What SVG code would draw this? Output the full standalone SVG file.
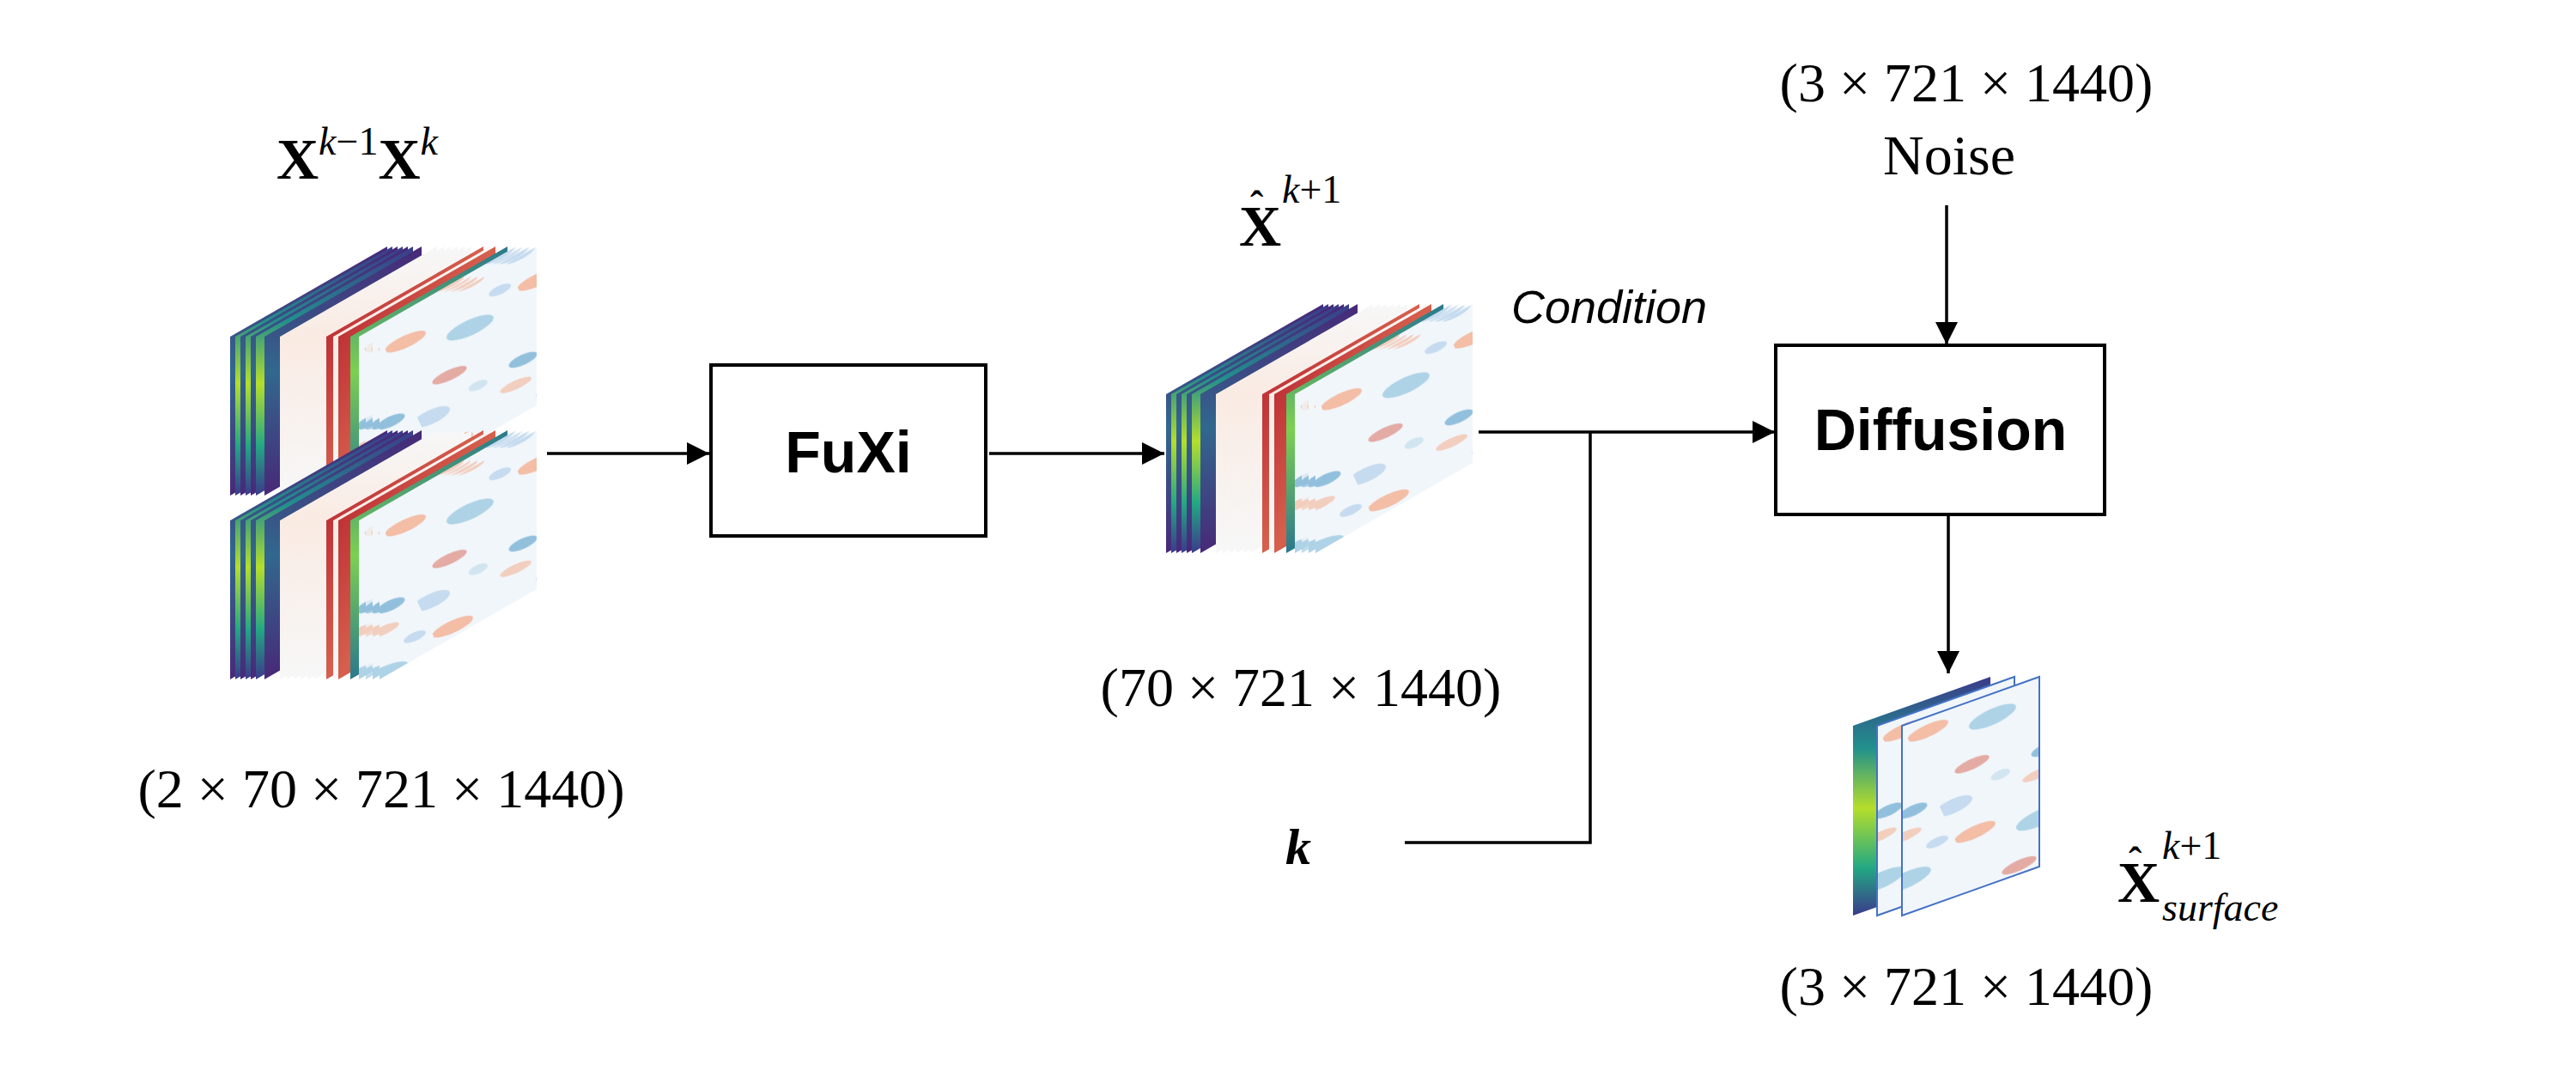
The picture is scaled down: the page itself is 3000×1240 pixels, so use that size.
<svg xmlns="http://www.w3.org/2000/svg" width="3000" height="1240" viewBox="0 0 3000 1240">
<style>
.m{font-family:"Liberation Serif","DejaVu Serif",serif;fill:#000}
.b{font-family:"Liberation Sans",Arial,sans-serif;font-weight:bold;fill:#000}
.box{fill:#fff;stroke:#000;stroke-width:4}
.ln{fill:none;stroke:#000;stroke-width:3.5}
</style>
<defs>
<marker id="ah" viewBox="0 0 10 10" refX="10" refY="5" markerWidth="30" markerHeight="26" markerUnits="userSpaceOnUse" orient="auto"><path d="M0,0 L10,5 L0,10 Z"/></marker>
<linearGradient id="vir" x1="0" y1="0" x2="0" y2="1"><stop offset="0" stop-color="#3b3a8b"/><stop offset="0.3" stop-color="#21918c"/><stop offset="0.55" stop-color="#b5de2b"/><stop offset="0.8" stop-color="#23a883"/><stop offset="1" stop-color="#3b3a8b"/></linearGradient>
<linearGradient id="pur" x1="0" y1="0" x2="0" y2="1"><stop offset="0" stop-color="#482878"/><stop offset="0.5" stop-color="#31688e"/><stop offset="1" stop-color="#482878"/></linearGradient>
<linearGradient id="teal" x1="0" y1="0" x2="0" y2="1"><stop offset="0" stop-color="#2a788e"/><stop offset="0.5" stop-color="#7ad151"/><stop offset="1" stop-color="#2a788e"/></linearGradient>
<linearGradient id="red" x1="0" y1="0" x2="1" y2="1"><stop offset="0" stop-color="#b2182b"/><stop offset="0.5" stop-color="#d6604d"/><stop offset="1" stop-color="#b2182b"/></linearGradient>
<linearGradient id="pale" x1="0" y1="0" x2="1" y2="1"><stop offset="0" stop-color="#fbe3d6"/><stop offset="0.5" stop-color="#f7f7f7"/><stop offset="1" stop-color="#f4c6b0"/></linearGradient>
<pattern id="tex" width="170" height="130" patternUnits="userSpaceOnUse" patternTransform="rotate(-25)">
<rect width="170" height="130" fill="#f1f6fb"/>
<ellipse cx="25" cy="18" rx="26" ry="7" fill="#f4a582" opacity="0.7"/>
<ellipse cx="100" cy="35" rx="30" ry="9" fill="#92c5de" opacity="0.7"/>
<ellipse cx="55" cy="75" rx="22" ry="6" fill="#d6604d" opacity="0.5"/>
<ellipse cx="140" cy="95" rx="18" ry="6" fill="#4393c3" opacity="0.55"/>
<ellipse cx="15" cy="110" rx="24" ry="8" fill="#c6dbef"/>
<ellipse cx="120" cy="118" rx="20" ry="5" fill="#f4a582" opacity="0.5"/>
<ellipse cx="80" cy="100" rx="12" ry="5" fill="#d1e5f0"/>
<ellipse cx="150" cy="10" rx="14" ry="5" fill="#c6dbef"/>
</pattern>
<path id="s" d="M0,0 L183,-105 L183,80 L0,185 Z"/>
<path id="t" d="M0,0 L160,-57 L160,164 L0,221 Z"/>
<g id="stack">
<use href="#s" x="0" fill="url(#pur)"/><use href="#s" x="6" fill="url(#vir)"/><use href="#s" x="12" fill="url(#pur)"/><use href="#s" x="18" fill="url(#vir)"/><use href="#s" x="24" fill="url(#pur)"/><use href="#s" x="30" fill="url(#vir)"/>
<use href="#s" x="40" fill="url(#pur)"/>
<use href="#s" x="58" fill="url(#pale)"/><use href="#s" x="66" fill="url(#pale)"/><use href="#s" x="74" fill="url(#pale)"/><use href="#s" x="82" fill="url(#pale)"/><use href="#s" x="90" fill="url(#pale)"/><use href="#s" x="98" fill="url(#pale)"/>
<use href="#s" x="112" fill="url(#red)"/><use href="#s" x="120" fill="url(#pale)"/><use href="#s" x="126" fill="url(#red)"/>
<use href="#s" x="140" fill="url(#teal)"/>
<use href="#s" x="150" fill="url(#tex)"/><use href="#s" x="158" fill="url(#tex)" opacity="0.8"/><use href="#s" x="166" fill="url(#tex)"/><use href="#s" x="174" fill="url(#tex)"/>
</g>
</defs>

<g id="input-stack">
<use href="#stack" transform="translate(268,392)"/>
<use href="#stack" transform="translate(268,606)"/>
<text class="m" x="322" y="208" font-size="68"><tspan font-weight="bold">X</tspan><tspan font-size="46" font-style="italic" dy="-28">k</tspan><tspan font-size="46">−1</tspan><tspan font-weight="bold" dy="28">X</tspan><tspan font-size="46" font-style="italic" dy="-28">k</tspan></text>
<text class="m" x="444" y="940" font-size="64" text-anchor="middle">(2 × 70 × 721 × 1440)</text>
</g>

<g id="fuxi">
<rect class="box" x="828" y="425" width="320" height="199"/>
<text class="b" x="988" y="550" font-size="68" text-anchor="middle">FuXi</text>
</g>

<g id="fuxi-output">
<use href="#stack" transform="translate(1358,459)"/>
<text class="m" x="1443" y="286" font-size="68" font-weight="bold">X</text>
<text class="m" x="1456" y="254" font-size="46" font-weight="bold">ˆ</text>
<text class="m" x="1493" y="236" font-size="46" font-style="italic">k<tspan font-style="normal">+1</tspan></text>
<text class="m" x="1515" y="822" font-size="64" text-anchor="middle">(70 × 721 × 1440)</text>
</g>

<g id="condition-label"><text x="1760" y="376" font-size="54" font-style="italic" font-family="Liberation Sans,Arial,sans-serif">Condition</text></g>
<g id="k-label"><text class="m" x="1497" y="1006" font-size="60" font-style="italic" font-weight="bold">k</text></g>

<g id="noise">
<text class="m" x="2290" y="118" font-size="64" text-anchor="middle">(3 × 721 × 1440)</text>
<text class="m" x="2270" y="203" font-size="66" text-anchor="middle">Noise</text>
</g>

<g id="diffusion">
<rect class="box" x="2068" y="402" width="383" height="197"/>
<text class="b" x="2260" y="524" font-size="68" text-anchor="middle">Diffusion</text>
</g>

<g id="output">
<use href="#t" x="2158" y="845" fill="url(#vir)"/>
<use href="#t" x="2186" y="845" fill="url(#tex)" stroke="#4472c4" stroke-width="2"/>
<use href="#t" x="2215" y="845" fill="url(#tex)" stroke="#4472c4" stroke-width="2"/>
<text class="m" x="2466" y="1050" font-size="68" font-weight="bold">X</text>
<text class="m" x="2479" y="1018" font-size="46" font-weight="bold">ˆ</text>
<text class="m" x="2518" y="1000" font-size="46" font-style="italic">k<tspan font-style="normal">+1</tspan></text>
<text class="m" x="2518" y="1072" font-size="46" font-style="italic">surface</text>
<text class="m" x="2290" y="1170" font-size="64" text-anchor="middle">(3 × 721 × 1440)</text>
</g>

<g id="connectors">
<line class="ln" x1="637" y1="528" x2="826" y2="528" marker-end="url(#ah)"/>
<line class="ln" x1="1152" y1="528" x2="1356" y2="528" marker-end="url(#ah)"/>
<line class="ln" x1="1722" y1="503" x2="2067" y2="503" marker-end="url(#ah)"/>
<polyline class="ln" points="1636,981 1852,981 1852,503"/>
<line class="ln" x1="2267" y1="239" x2="2267" y2="401" marker-end="url(#ah)"/>
<line class="ln" x1="2269" y1="599" x2="2269" y2="784" marker-end="url(#ah)"/>
</g>
</svg>
